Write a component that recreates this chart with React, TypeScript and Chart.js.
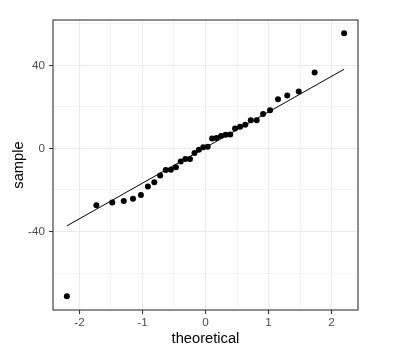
import React, { useEffect, useRef } from "react";
import { Chart, registerables } from "chart.js";

Chart.register(...registerables);

const theoretical: number[] = [
  -2.2, -1.732, -1.48, -1.297, -1.15, -1.025, -0.914, -0.812, -0.719, -0.631,
  -0.549, -0.469, -0.393, -0.319, -0.246, -0.175, -0.105, -0.035, 0.035, 0.105,
  0.175, 0.246, 0.319, 0.393, 0.469, 0.549, 0.631, 0.719, 0.812, 0.914,
  1.025, 1.15, 1.297, 1.48, 1.732, 2.2,
];
const sample: number[] = [
  -71.2, -27.4, -26.1, -25.3, -24.2, -22.4, -18.4, -16.3, -13.1, -10.4,
  -10.3, -9.1, -6.3, -5.1, -5.1, -2.2, -0.6, 0.6, 0.8, 4.8,
  5.0, 5.9, 6.6, 6.7, 9.6, 10.4, 11.4, 13.5, 13.5, 16.5,
  18.4, 23.7, 25.5, 27.4, 36.5, 55.4,
];
const lineX: number[] = [-2.2, 2.2];
const lineY: number[] = [-37.3, 38.1];

const xTicks: number[] = [-2, -1.5, -1, -0.5, 0, 0.5, 1, 1.5, 2];
const xMajor: number[] = [-2, -1, 0, 1, 2];
const yTicks: number[] = [-60, -40, -20, 0, 20, 40, 60];
const yMajor: number[] = [-40, 0, 40];

const FONT = "'Liberation Sans', Arial, sans-serif";

const borderPlugin = {
  id: "panelBorder",
  afterDraw(chart: any) {
    const { ctx, chartArea } = chart;
    ctx.save();
    ctx.strokeStyle = "#333333";
    ctx.lineWidth = 1.1;
    ctx.strokeRect(chartArea.left, chartArea.top, chartArea.right - chartArea.left, chartArea.bottom - chartArea.top);
    ctx.restore();
  },
};

export default function App() {
  const ref = useRef<HTMLCanvasElement>(null);
  useEffect(() => {
    if (!ref.current) return;
    const isMajor = (arr: number[]) => (v: number) => arr.some((m) => Math.abs(m - v) < 1e-9);
    const xm = isMajor(xMajor);
    const ym = isMajor(yMajor);
    const chart = new Chart(ref.current, {
      type: "scatter",
      data: {
        datasets: [
          {
            data: lineX.map((x, i) => ({ x, y: lineY[i] })),
            showLine: true,
            borderColor: "#000000",
            borderWidth: 1,
            pointRadius: 0,
            backgroundColor: "#000000",
          },
          {
            data: theoretical.map((x, i) => ({ x, y: sample[i] })),
            backgroundColor: "#000000",
            borderColor: "#000000",
            pointRadius: 3,
            borderWidth: 0,
          },
        ],
      },
      options: {
        animation: false,
        responsive: false,
        devicePixelRatio: 1,
        layout: { padding: { left: 0, top: 20, right: 41, bottom: 0 } },
        plugins: { legend: { display: false }, tooltip: { enabled: false } },
        scales: {
          x: {
            type: "linear",
            min: -2.42,
            max: 2.42,
            afterBuildTicks: (s: any) => {
              s.ticks = xTicks.map((v) => ({ value: v }));
            },
            afterFit: (s: any) => {
              s.height = 43;
            },
            border: { display: false },
            grid: {
              color: "#EBEBEB",
              lineWidth: (c: any) => (xm(c.tick?.value) ? 1.07 : 0.53),
              tickColor: (c: any) => (xm(c.tick?.value) ? "#333333" : "rgba(0,0,0,0)"),
              tickLength: 4,
              tickWidth: 1.07,
            },
            ticks: {
              color: "#4D4D4D",
              font: { family: FONT, size: 11.7 },
              padding: 2,
              maxRotation: 0,
              autoSkip: false,
              callback: (v: any) => (xm(Number(v)) ? String(v) : ""),
            },
            title: {
              display: true,
              text: "theoretical",
              color: "#000000",
              font: { family: FONT, size: 14.7 },
              padding: { top: 0, bottom: 5.6 },
            },
          },
          y: {
            type: "linear",
            min: -77.8,
            max: 61.8,
            afterBuildTicks: (s: any) => {
              s.ticks = yTicks.map((v) => ({ value: v }));
            },
            afterFit: (s: any) => {
              s.width = 53;
            },
            border: { display: false },
            grid: {
              color: "#EBEBEB",
              lineWidth: (c: any) => (ym(c.tick?.value) ? 1.07 : 0.53),
              tickColor: (c: any) => (ym(c.tick?.value) ? "#333333" : "rgba(0,0,0,0)"),
              tickLength: 4,
              tickWidth: 1.07,
            },
            ticks: {
              color: "#4D4D4D",
              font: { family: FONT, size: 11.7 },
              padding: 4,
              autoSkip: false,
              callback: (v: any) => (ym(Number(v)) ? String(v) : ""),
            },
            title: {
              display: true,
              text: "sample",
              color: "#000000",
              font: { family: FONT, size: 14.7 },
              padding: { top: 9.8, bottom: 0 },
            },
          },
        },
      },
      plugins: [borderPlugin],
    });
    return () => chart.destroy();
  }, []);
  return (
    <div style={{ position: "fixed", left: 0, top: 0, width: 399, height: 353, background: "#ffffff" }}>
      <canvas ref={ref} width={399} height={353} style={{ display: "block" }} />
    </div>
  );
}
